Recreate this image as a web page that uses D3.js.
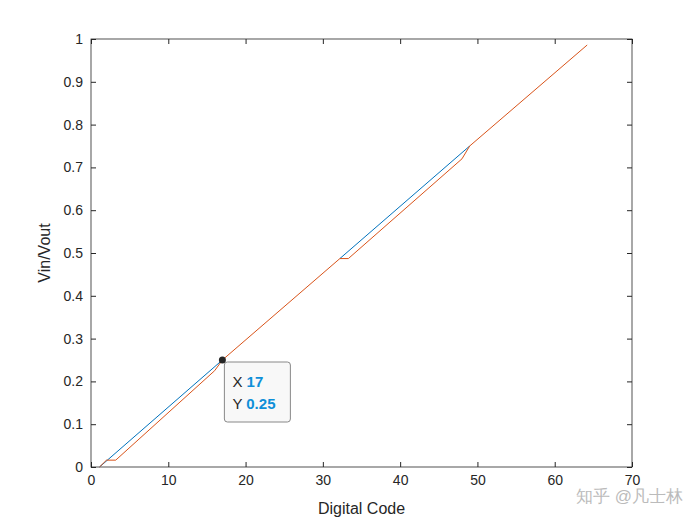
<!DOCTYPE html>
<html><head><meta charset="utf-8">
<script src="https://cdn.jsdelivr.net/npm/d3@7"></script>
<style>body{margin:0;background:#fff}text{font-family:Arial,"Liberation Sans",sans-serif}</style>
</head><body>
<script>
const blueSegA = [[1.1, 0], [17, 0.25]];
const blueSegB = [[32.2, 0.487], [49, 0.75]];
const orange = [[1.1, 0], [2, 0.016], [3.2, 0.016], [16, 0.225], [17, 0.25], [32.2, 0.487], [33.3, 0.487], [48, 0.72], [49, 0.75], [64.2, 0.986]];
const tipPoint = [17, 0.25];
const xTicks = d3.range(0, 71, 10);
const yTicks = d3.range(0, 1.01, 0.1);

const margin = { top: 39, bottom: 58, left: 91, right: 68 };
const width = 700, height = 525;
const svg = d3.select('body').append('svg').attr('width', width).attr('height', height);
const x = d3.scaleLinear().domain([0, 70]).range([margin.left, width - margin.right]);
const y = d3.scaleLinear().domain([0, 1]).range([height - margin.bottom, margin.top]);

svg.append('rect').attr('x', x(0)).attr('y', y(1)).attr('width', x(70) - x(0)).attr('height', y(0) - y(1))
	.attr('fill', 'white').attr('stroke', '#262626').attr('stroke-width', 0.8);

const fmt = d => d3.format('~g')(+d.toFixed(1));
svg.append('g').attr('transform', `translate(0,${y(0)})`).call(d3.axisBottom(x).tickValues(xTicks).tickSize(-5).tickPadding(8).tickFormat(fmt));
svg.append('g').attr('transform', `translate(0,${y(1)})`).call(d3.axisTop(x).tickValues(xTicks).tickSize(-5).tickFormat(''));
svg.append('g').attr('transform', `translate(${x(0)},0)`).call(d3.axisLeft(y).tickValues(yTicks).tickSize(-5).tickPadding(8).tickFormat(fmt));
svg.append('g').attr('transform', `translate(${x(70)},0)`).call(d3.axisRight(y).tickValues(yTicks).tickSize(-5).tickFormat(''));
svg.selectAll('.domain').remove();
svg.selectAll('.tick line').attr('stroke', '#262626');
svg.selectAll('.tick text').attr('font-size', 14).attr('fill', '#262626');

svg.append('text').attr('x', (x(0) + x(70)) / 2).attr('y', 514).attr('text-anchor', 'middle').attr('font-size', 16).attr('fill', '#262626').text('Digital Code');
svg.append('text').attr('transform', `translate(50,${(y(0) + y(1)) / 2}) rotate(-90)`).attr('text-anchor', 'middle').attr('font-size', 16).attr('fill', '#262626').text('Vin/Vout');

const line = d3.line().x(d => x(d[0])).y(d => y(d[1]));
[blueSegA, blueSegB].forEach(s => svg.append('path').attr('d', line(s)).attr('fill', 'none').attr('stroke', '#0072bd').attr('stroke-width', 1));
svg.append('path').attr('d', line(orange)).attr('fill', 'none').attr('stroke', '#d95319').attr('stroke-width', 1);

// data tip
const tx = x(tipPoint[0]), ty = y(tipPoint[1]);
svg.append('circle').attr('cx', tx).attr('cy', ty).attr('r', 3.5).attr('fill', '#262626');
svg.append('rect').attr('x', tx + 2).attr('y', ty + 2).attr('width', 66).attr('height', 60).attr('rx', 3)
	.attr('fill', '#f8f8f8').attr('stroke', '#888').attr('stroke-width', 1);
[['X ', tipPoint[0]], ['Y ', tipPoint[1]]].forEach((r, i) => {
	const t = svg.append('text').attr('x', tx + 10).attr('y', ty + 27 + i * 22).attr('font-size', 15).attr('fill', '#262626');
	t.append('tspan').text(r[0]);
	t.append('tspan').attr('fill', '#0e8fd8').attr('font-weight', 'bold').text(r[1]);
});

svg.append('text').attr('x', 683).attr('y', 502).attr('text-anchor', 'end').attr('font-size', 17).attr('fill', '#bbb')
	.attr('font-family', '"Noto Sans CJK SC"').text('知乎 @凡士林');
</script>
</body></html>
